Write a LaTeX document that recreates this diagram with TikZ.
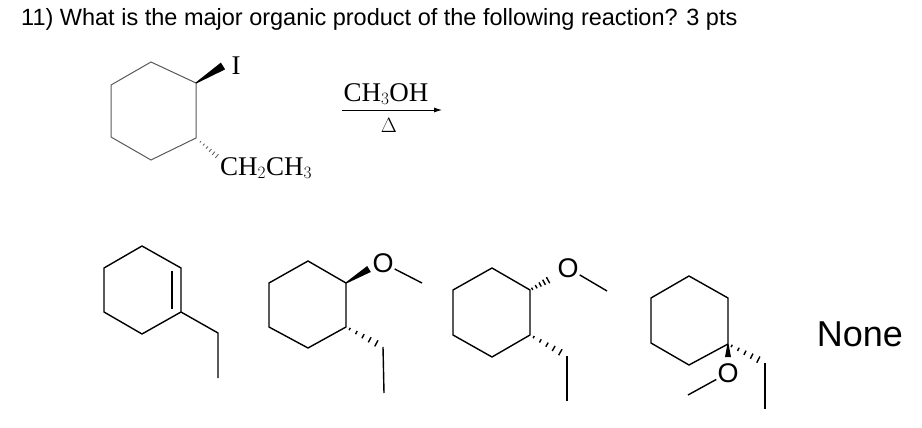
\documentclass[tikz,border=0pt]{standalone}
\usepackage{fontspec}
\setmainfont{Liberation Sans}
\newfontfamily\tnr{Liberation Serif}
\usetikzlibrary{calc,arrows.meta}
\tikzset{bond/.style={line width=1.4pt,line join=round},
 lbl/.style={inner sep=1pt,font=\fontsize{27}{29}\selectfont},
 tlbl/.style={inner sep=0pt,font=\tnr\fontsize{27}{29}\selectfont}}
\newcommand\wedgeb[3][5]{\fill ($(#2)!0.6pt!90:(#3)$) -- ($(#2)!0.6pt!-90:(#3)$) -- ($(#3)!#1pt!90:(#2)$) -- ($(#3)!#1pt!-90:(#2)$) -- cycle;}
\newcommand\hashc[2]{\foreach \t in {0.1,0.28,0.46,0.64,0.82,1.0}{\draw[line width=1.4pt] ($($(#1)!\t!(#2)$)!{(1+3*\t)*1pt}!90:(#2)$) -- ($($(#1)!\t!(#2)$)!{(1+3*\t)*1pt}!-90:(#2)$);}}
\begin{document}
\begin{tikzpicture}[x=1pt,y=-1pt]
\useasboundingbox (0,0) rectangle (922,428);
\node[anchor=west,inner sep=0pt,font=\fontsize{23.5}{26}\selectfont] (title) at (21,19) {11) What is the major organic product of the following reaction? 3 pts};
% starting material
\coordinate (a1) at (151,62); \coordinate (a2) at (196,83); \coordinate (a3) at (196,138);
\coordinate (a4) at (151,160); \coordinate (a5) at (111,137); \coordinate (a6) at (111,85);
\draw[line width=1pt,gray!70!black] (a1)--(a2)--(a3)--(a4)--(a5)--(a6)--cycle;
\coordinate (aI) at (223,66);
\wedgeb[4]{a2}{aI}
\node[tlbl] (I) at (236,66) {I};
\coordinate (aE) at (218,157);
\foreach \t in {0.2,0.35,0.5,0.65,0.8,0.95}{\draw[line width=0.8pt,gray!70!black] ($($(a3)!\t!(aE)$)!{(0.5+2*\t)*1pt}!90:(aE)$) -- ($($(a3)!\t!(aE)$)!{(0.5+2*\t)*1pt}!-90:(aE)$);}
\node[tlbl,anchor=west] (et) at (220,168) {CH$_2$CH$_3$};
\coordinate (r1) at (342,110); \coordinate (r2) at (442,110);
\draw[line width=0.8pt,-{Latex[length=8pt,width=5pt]}] (r1) -- (r2);
\node[tlbl] (reag) at (386,94) {CH$_3$OH};
\node[tlbl,font=\tnr\fontsize{20}{22}\selectfont] (heat) at (389,125) {$\Delta$};
% product 1
\coordinate (b1) at (142,246); \coordinate (b2) at (181,268); \coordinate (b3) at (181,312);
\coordinate (b4) at (142,334); \coordinate (b5) at (104,312); \coordinate (b6) at (104,268);
\draw[bond] (b1)--(b2)--(b3)--(b4)--(b5)--(b6)--cycle;
\coordinate (bd1) at (172,271); \coordinate (bd2) at (172,309);
\draw[bond] (bd1)--(bd2);
\coordinate (b7) at (218,333); \coordinate (b8) at (218,378);
\draw[bond] (b3)--(b7)--(b8);
% product 2
\coordinate (c1) at (308,261); \coordinate (c2) at (346,283); \coordinate (c3) at (346,327);
\coordinate (c4) at (308,348); \coordinate (c5) at (269,327); \coordinate (c6) at (269,283);
\draw[bond] (c1)--(c2)--(c3)--(c4)--(c5)--(c6)--cycle;
\coordinate (cw) at (369,269);
\wedgeb[3.5]{c2}{cw}
\node[lbl] (cO) at (383,263) {O};
\coordinate (cm) at (422,283);
\draw[bond] (cO) -- (cm);
\coordinate (ch) at (383,347); \coordinate (ce) at (384,393);
\hashc{c3}{ch}
\draw[bond] (ch)--(ce);
% product 3
\coordinate (d1) at (492,268); \coordinate (d2) at (530,290); \coordinate (d3) at (530,335);
\coordinate (d4) at (492,357); \coordinate (d5) at (453,335); \coordinate (d6) at (453,290);
\draw[bond] (d1)--(d2)--(d3)--(d4)--(d5)--(d6)--cycle;
\coordinate (dh) at (552,278);
\hashc{d2}{dh}
\node[lbl] (dO) at (568,268) {O};
\coordinate (dm) at (607,291);
\draw[bond] (dO) -- (dm);
\coordinate (dh2) at (567,356); \coordinate (de) at (567,401);
\hashc{d3}{dh2}
\draw[bond] (dh2)--(de);
% product 4
\coordinate (e1) at (689,276); \coordinate (e2) at (728,298); \coordinate (e3) at (728,344);
\coordinate (e4) at (689,365); \coordinate (e5) at (651,343); \coordinate (e6) at (651,298);
\draw[bond] (e1)--(e2)--(e3)--(e4)--(e5)--(e6)--cycle;
\coordinate (ew) at (728,357);
\wedgeb[3]{e3}{ew}
\node[lbl] (eO) at (728,373) {O};
\coordinate (em) at (688,395);
\draw[bond] (eO) -- (em);
\coordinate (eh) at (765,363); \coordinate (ee) at (765,409);
\hashc{e3}{eh}
\draw[bond] (eh)--(ee);
\node[font=\fontsize{36}{40}\selectfont] (none) at (860,334) {None};
\end{tikzpicture}
\end{document}
